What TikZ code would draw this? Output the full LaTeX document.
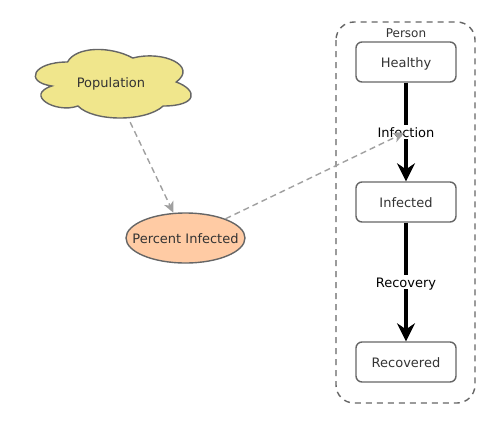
\documentclass[tikz,border=0pt]{standalone}
\usepackage{fontspec}
\setmainfont{DejaVu Sans}
\usetikzlibrary{arrows.meta,shapes.geometric}
\definecolor{strokegray}{HTML}{666666}
\definecolor{textgray}{HTML}{333333}
\definecolor{linkgray}{HTML}{A0A0A0}
\definecolor{khaki}{HTML}{F0E68C}
\definecolor{peach}{HTML}{FFCBA4}
\tikzset{
  txt/.style={font=\fontsize{13}{15}\selectfont, text=textgray, text height=11pt, text depth=0pt},
  stock/.style={txt, draw=strokegray, line width=1.4pt, rounded corners=6pt, fill=white,
    minimum width=100pt, minimum height=40pt, inner sep=0pt},
  flow/.style={line width=3.5pt, -{Stealth[length=18pt, width=18pt, inset=6pt]}},
  lbl/.style={font=\fontsize{13}{15}\selectfont, fill=white, inner sep=1pt, text=black,
    text height=11pt, text depth=1pt},
  link/.style={draw=linkgray, line width=1.4pt, dash pattern=on 6pt off 4pt,
    -{Stealth[length=11pt, width=10pt, inset=3pt, fill=linkgray]}},
  container/.style={draw=strokegray, line width=1.4pt, dash pattern=on 6pt off 5pt, rounded corners=18pt},
}
\begin{document}
\begin{tikzpicture}[x=1pt,y=-1pt]
\useasboundingbox (0,0) rectangle (501,424);
\fill[white] (0,0) rectangle (501,424);
% container
\draw[container] (336,22) rectangle (475,403);
\node[txt, font=\fontsize{12}{14}\selectfont] (person) at (406,32) {Person};
% cloud
\draw[draw=strokegray, line width=1.4pt, fill=khaki]
  (67.5,62) .. controls (32.7,62) and (24,82) .. (51.84,86)
  .. controls (24,94.8) and (55.32,114) .. (77.94,106)
  .. controls (93.6,122) and (145.8,122) .. (163.2,106)
  .. controls (198,106) and (198,90) .. (176.25,82)
  .. controls (198,66) and (163.2,50) .. (132.75,58)
  .. controls (111,46) and (76.2,46) .. (67.5,62) -- cycle;
\node[txt, minimum width=174pt, minimum height=80pt, inner sep=0pt] (pop) at (111,82) {Population};
% converter
\node[ellipse, draw=strokegray, line width=1.4pt, fill=peach,
  minimum width=119pt, minimum height=50pt, inner sep=0pt,
  label={[txt]center:Percent Infected}] (pi) at (185.5,238) {};
% stocks
\node[stock] (healthy) at (406,62) {Healthy};
\node[stock] (infected) at (406,202) {Infected};
\node[stock] (recovered) at (406,362) {Recovered};
% flows
\draw[flow] (healthy) -- node[lbl] (infl) {Infection} coordinate[midway] (infc) (infected);
\draw[flow] (infected) -- node[lbl] (recl) {Recovery} (recovered);
% links
\draw[link] (pop) -- (pi);
\draw[link, shorten >=2pt] (pi) -- (infc);
\end{tikzpicture}
\end{document}
